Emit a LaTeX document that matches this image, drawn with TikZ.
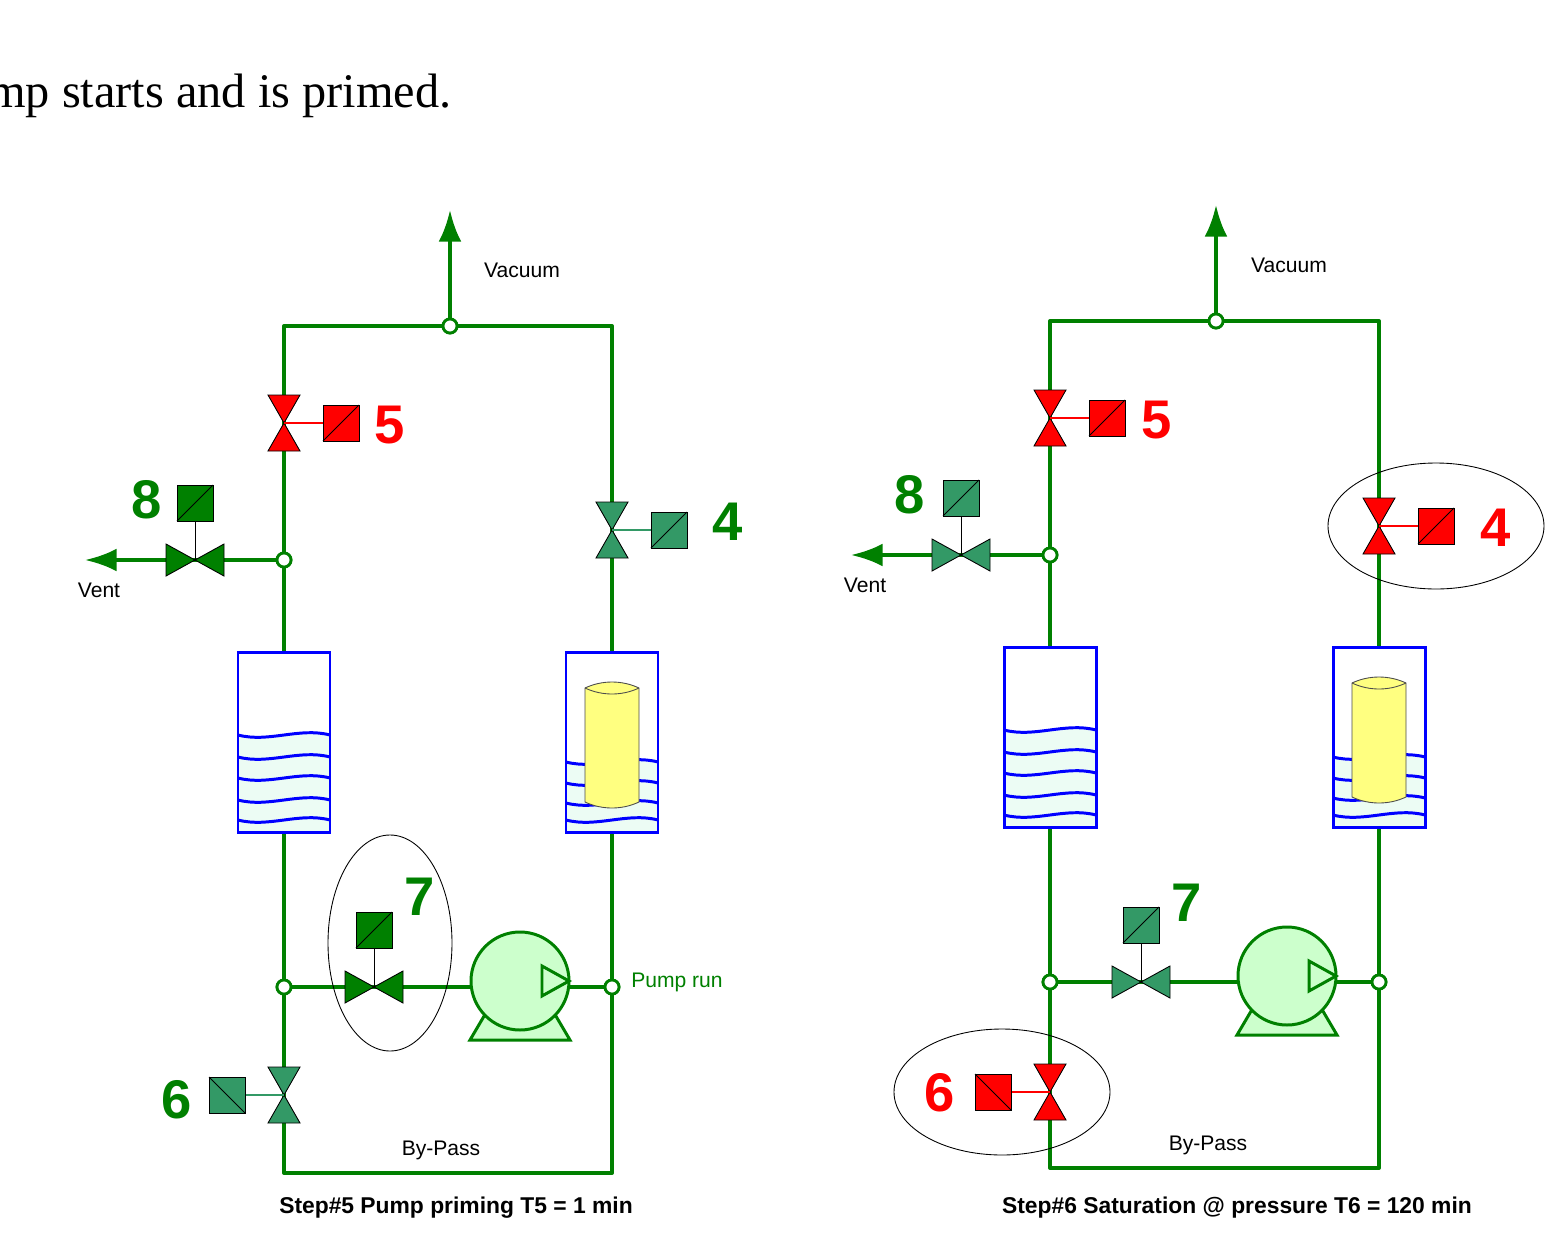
\documentclass[tikz,border=0pt]{standalone}
\usepackage{fontspec}
\setmainfont{Liberation Serif}
\setsansfont{Liberation Sans}
\usetikzlibrary{arrows.meta}
\definecolor{pipegreen}{RGB}{0,128,0}
\definecolor{seagreen}{RGB}{51,153,102}
\definecolor{waterfill}{RGB}{236,252,244}
\definecolor{pumpfill}{RGB}{204,255,204}
\definecolor{rodfill}{RGB}{255,255,128}
\tikzset{
  pipe/.style={draw=pipegreen,line width=2.3pt},
  junction/.style={circle,draw=pipegreen,fill=white,line width=1.6pt,inner sep=0pt,minimum size=8pt},
  num/.style={font=\sffamily\bfseries\fontsize{31}{31}\selectfont},
  lbl/.style={font=\sffamily\fontsize{12}{12}\selectfont},
  caption/.style={font=\sffamily\bfseries\fontsize{13}{13}\selectfont},
  outl/.style={draw=black,line width=0.5pt},
  pics/vvalve/.style={code={% valve on a vertical pipe, actuator to the right
    \filldraw[fill=#1,outl] (-16,-28) -- (16,-28) -- (0,0) -- cycle;
    \filldraw[fill=#1,outl] (-16,28) -- (16,28) -- (0,0) -- cycle;
    \draw[line width=1.2pt] (0,0) -- (39,0);
    \draw[#1,line width=0.6pt] (0,0) -- (39,0);
    \filldraw[fill=#1,outl] (39,-18) rectangle (75,18);
    \draw[outl] (39,18) -- (75,-18);
  }},
  pics/hvalve/.style={code={% valve on a horizontal pipe, actuator above
    \filldraw[fill=#1,outl] (-29,-16) -- (-29,16) -- (0,0) -- cycle;
    \filldraw[fill=#1,outl] (29,-16) -- (29,16) -- (0,0) -- cycle;
    \draw[outl] (0,0) -- (0,-39);
    \filldraw[fill=#1,outl] (-18,-75) rectangle (18,-39);
    \draw[outl] (-18,-39) -- (18,-75);
  }},
  pics/pump/.style={code={
    \filldraw[fill=pumpfill,draw=pipegreen,line width=1.7pt] (-50,59) -- (50,59) -- (30,25) -- (-30,25) -- cycle;
    \filldraw[fill=pumpfill,draw=pipegreen,line width=1.7pt] (0,0) circle (49);
    \draw[pipegreen,line width=1.7pt] (22,-15) -- (22,15) -- (49,0) -- cycle;
  }},
  pics/vessel/.style={code={
    \fill[white] (-46,-90) rectangle (46,90);
    \fill[waterfill] (-46,#1) .. controls (-15,#1+8) and (15,#1-8) .. (46,#1) -- (46,90) -- (-46,90) -- cycle;
    \foreach \w in {#1,15,36,58,78}
      \draw[blue,line width=1.7pt] (-46,\w) .. controls (-15,\w+8) and (15,\w-8) .. (46,\w);
    \draw[blue,line width=1.7pt] (-46,-90) rectangle (46,90);
  }},
  pics/rodvessel/.style={code={
    \fill[white] (-46,-90) rectangle (46,90);
    \fill[waterfill] (-46,20) .. controls (-15,28) and (15,12) .. (46,20) -- (46,90) -- (-46,90) -- cycle;
    \foreach \w in {20,41,61,78}
      \draw[blue,line width=1.7pt] (-46,\w) .. controls (-15,\w+8) and (15,\w-8) .. (46,\w);
    \filldraw[fill=rodfill,draw=black!70,line width=0.5pt] (-27,-54) .. controls (-10,-62) and (10,-62) .. (27,-54)
      -- (27,60) .. controls (10,68) and (-10,68) .. (-27,60) -- cycle;
    \draw[black!70,line width=0.5pt] (-27,-54) .. controls (-10,-46) and (10,-46) .. (27,-54);
    \draw[blue,line width=1.7pt] (-46,-90) rectangle (46,90);
  }},
}
\begin{document}
\begin{tikzpicture}[x=0.02cm,y=-0.02cm]
\useasboundingbox (0,0) rectangle (1563,1241);
\begin{scope}
  \clip (0,0) rectangle (1563,1241);
  \node[anchor=base west,inner sep=0pt,font=\fontsize{27.5}{27.5}\selectfont] (intro) at (-12,107) {mp starts and is primed.};
\end{scope}

% Step 5
\begin{scope}[name prefix=L-]
  \coordinate (tl) at (284,326); \coordinate (tr) at (612,326);
  \coordinate (bl) at (284,1173); \coordinate (br) at (612,1173);
  \coordinate (vtip) at (450,210); \coordinate (vend) at (85,560);
  \draw[pipe,line join=round] (tl) -- (tr) -- (br) -- (bl) -- cycle;
  \node[junction] (vac) at (450,326) {};
  \node[junction] (vent) at (284,560) {};
  \node[junction] (pl) at (284,987) {};
  \node[junction] (pr) at (612,987) {};
  \draw[pipe,-{Latex[length=18pt,width=13pt]}] (vac) -- (vtip);
  \draw[pipe,-{Latex[length=18pt,width=13pt]}] (vent) -- (vend);
  \draw[pipe] (pl) -- (pr);
  \node[junction] at (450,326) {}; \node[junction] at (284,560) {};
  \node[junction] at (284,987) {}; \node[junction] at (612,987) {};
  \pic at (284,742) {vessel=-7};
  \pic at (612,742) {rodvessel};
  \pic at (520,981) {pump};
  \pic at (284,423) {vvalve=red};
  \pic at (195,560) {hvalve=pipegreen};
  \pic at (612,530) {vvalve=seagreen};
  \pic at (374,987) {hvalve=pipegreen};
  \pic[xscale=-1] at (284,1095) {vvalve=seagreen};
  \draw[line width=0.5pt] (390,943) ellipse (62 and 108);
  \node[num,red] (n5) at (390,425) {5};
  \node[num,pipegreen] (n8) at (147,500) {8};
  \node[num,pipegreen] (n4) at (728,522) {4};
  \node[num,pipegreen] (n7) at (420,897) {7};
  \node[num,pipegreen] (n6) at (177,1100) {6};
  \node[lbl] (vaclbl) at (522,270) {Vacuum};
  \node[lbl] (ventlbl) at (99,590) {Vent};
  \node[lbl] (bypass) at (441,1150) {By-Pass};
  \node[lbl,pipegreen] (run) at (677,982) {Pump run};
\end{scope}
\node[caption] (cap5) at (456,1208) {Step\#5 Pump priming T5 = 1 min};

% Step 6
\begin{scope}[shift={(766,-5)},name prefix=R-]
  \coordinate (tl) at (284,326); \coordinate (tr) at (613,326);
  \coordinate (bl) at (284,1173); \coordinate (br) at (613,1173);
  \coordinate (vtip) at (450,210); \coordinate (vend) at (85,560);
  \draw[pipe,line join=round] (tl) -- (tr) -- (br) -- (bl) -- cycle;
  \node[junction] (vac) at (450,326) {};
  \node[junction] (vent) at (284,560) {};
  \node[junction] (pl) at (284,987) {};
  \node[junction] (pr) at (613,987) {};
  \draw[pipe,-{Latex[length=18pt,width=13pt]}] (vac) -- (vtip);
  \draw[pipe,-{Latex[length=18pt,width=13pt]}] (vent) -- (vend);
  \draw[pipe] (pl) -- (pr);
  \node[junction] at (450,326) {}; \node[junction] at (284,560) {};
  \node[junction] at (284,987) {}; \node[junction] at (613,987) {};
  \pic at (284,742) {vessel=-7};
  \pic at (613,742) {rodvessel};
  \pic at (521,981) {pump};
  \pic at (284,423) {vvalve=red};
  \pic at (195,560) {hvalve=seagreen};
  \pic at (613,531) {vvalve=red};
  \pic at (375,987) {hvalve=seagreen};
  \pic[xscale=-1] at (284,1097) {vvalve=red};
  \draw[line width=0.5pt] (670,531) ellipse (108 and 63);
  \draw[line width=0.5pt] (236,1097) ellipse (108 and 63);
  \node[num,red] (n5) at (391,425) {5};
  \node[num,pipegreen] (n8) at (144,500) {8};
  \node[num,red] (n4) at (730,533) {4};
  \node[num,pipegreen] (n7) at (421,908) {7};
  \node[num,red] (n6) at (174,1098) {6};
  \node[lbl] (vaclbl) at (523,270) {Vacuum};
  \node[lbl] (ventlbl) at (99,590) {Vent};
  \node[lbl] (bypass) at (442,1150) {By-Pass};
\end{scope}
\node[caption] (cap6) at (1237,1208) {Step\#6 Saturation @ pressure T6 = 120 min};
\end{tikzpicture}
\end{document}
